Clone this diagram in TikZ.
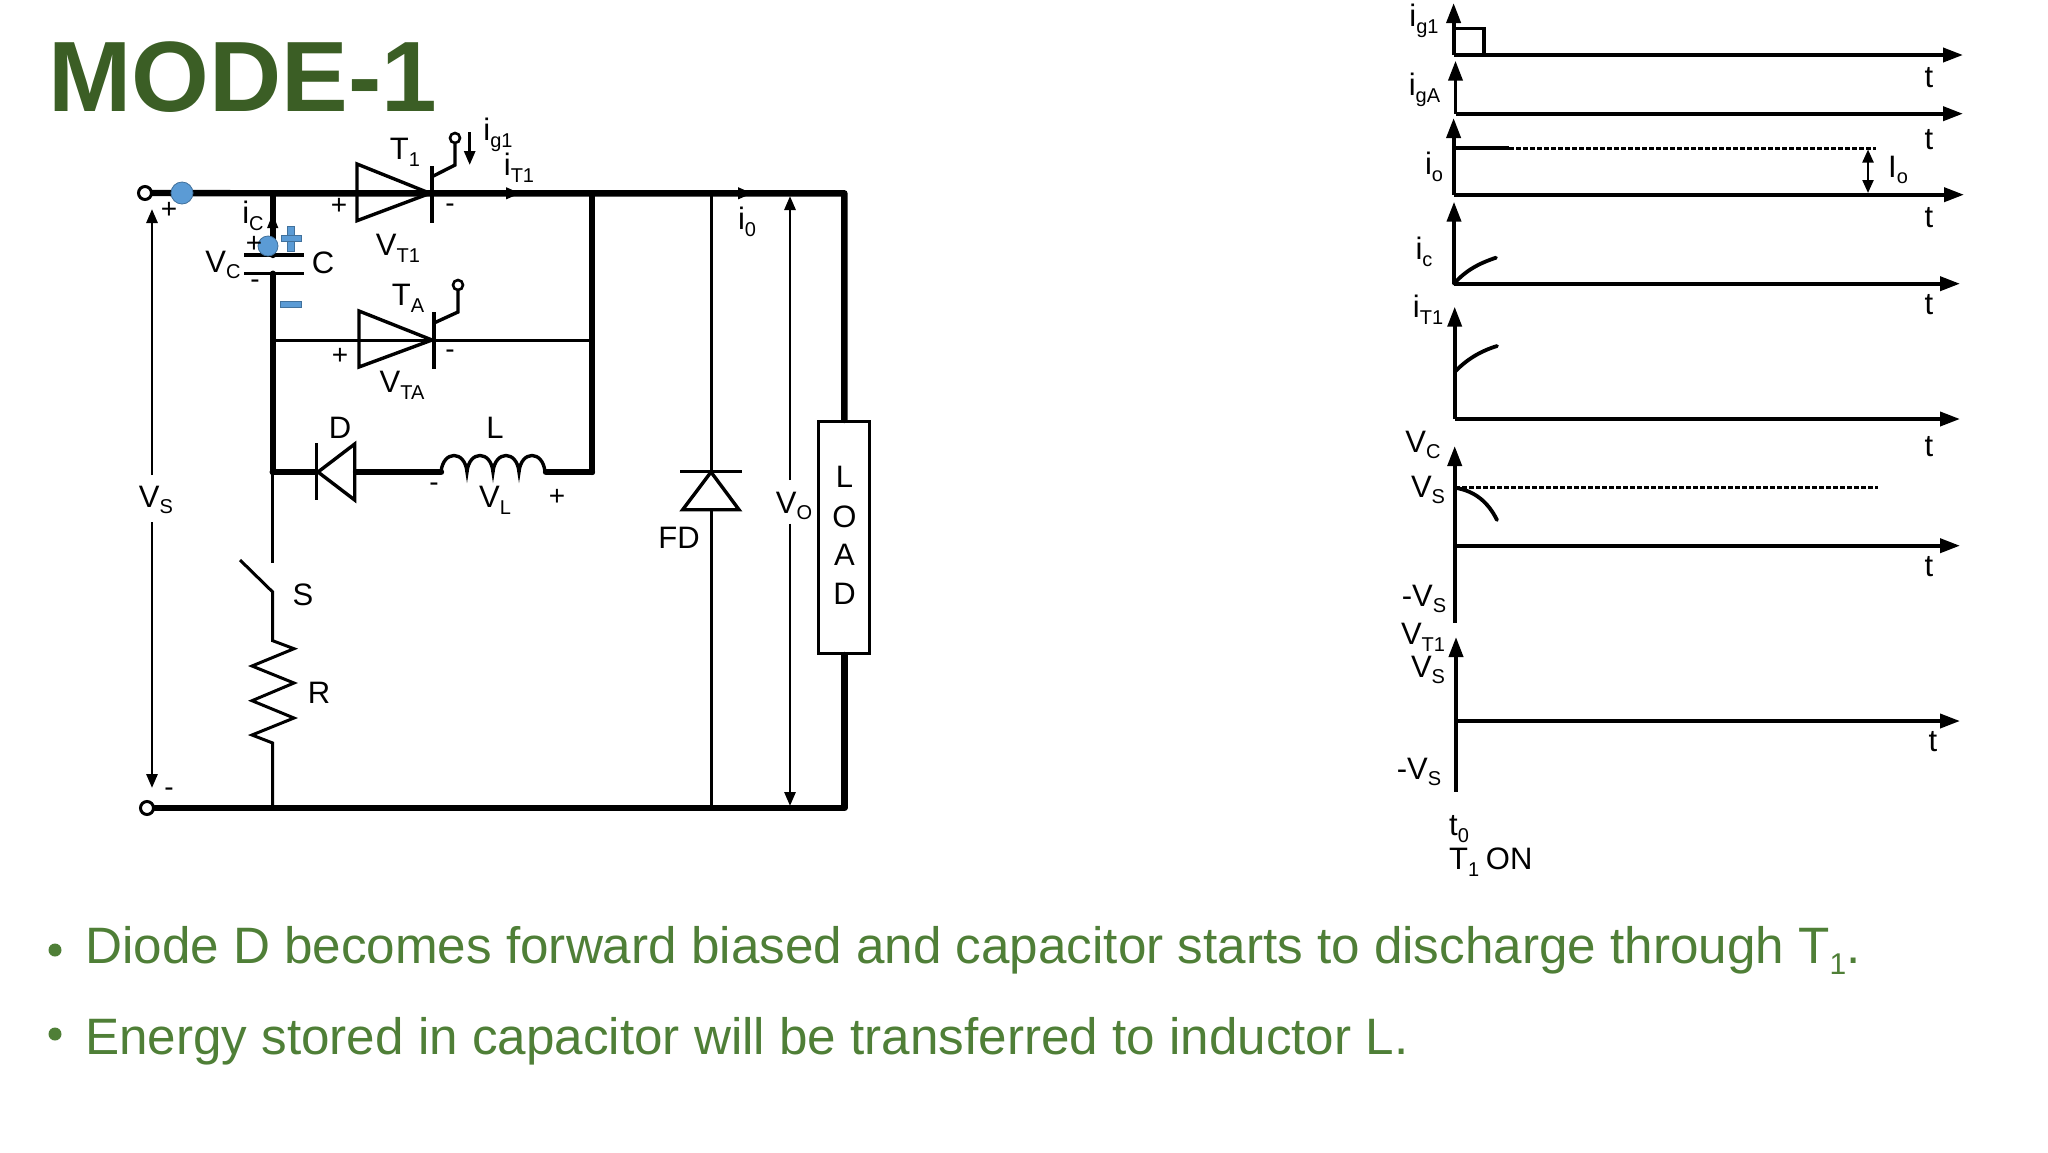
\documentclass[tikz,border=0pt]{standalone}
\usepackage{fontspec}
\setmainfont{Liberation Sans}
\usetikzlibrary{arrows.meta}
\definecolor{titlegreen}{HTML}{3B5E25}
\definecolor{bulletgreen}{HTML}{4F7F37}
\definecolor{markblue}{HTML}{5B9BD5}
\definecolor{markedge}{HTML}{41719C}
\newcommand\lsub[1]{\raisebox{-0.22em}{\fontsize{20}{20}\selectfont #1}}
\newcommand\tsub[1]{\raisebox{-0.22em}{\fontsize{30}{30}\selectfont #1}}
\tikzset{
  x=1pt,y=-1pt,
  thick wire/.style={line width=6.4pt,line cap=round,line join=round},
  thin wire/.style={line width=3pt,line join=miter},
  part/.style={line width=3.4pt,line join=miter},
  terminal/.style={circle,draw,line width=3pt,fill=white,minimum size=13pt,inner sep=0pt},
  gatepin/.style={circle,draw,line width=2.6pt,fill=white,minimum size=10pt,inner sep=0pt},
  lab/.style={inner sep=0pt,font=\fontsize{31}{31}\selectfont},
  sign/.style={inner sep=0pt,font=\fontsize{28}{28}\selectfont},
  axis/.style={line width=3.8pt,-{Triangle[length=20pt,width=14pt]}},
  trace/.style={line width=3.8pt,line cap=round},
  dashline/.style={line width=2.8pt,dash pattern=on 4.5pt off 2.5pt},
  measure/.style={line width=2.8pt,-{Triangle[length=14pt,width=11pt]}},
  bluedot/.style={circle,fill=markblue,draw=markedge,line width=0.8pt,inner sep=0pt},
  body/.style={inner sep=0pt,anchor=base west,text=bulletgreen,font=\fontsize{51.2}{51.2}\selectfont},
  blt/.style={circle,fill=bulletgreen,inner sep=0pt,minimum size=13pt},
}
\begin{document}
\begin{tikzpicture}
\useasboundingbox (0,0) rectangle (2048,1152);
\fill[white] (0,0) rectangle (2048,1152);
\node[inner sep=0pt,anchor=base west,text=titlegreen,font=\fontsize{100}{100}\selectfont\bfseries] (title) at (48,111) {MODE-1};

% named circuit points
\node[terminal] (tplus) at (145,193) {};
\node[terminal] (tminus) at (147,808) {};
\coordinate (jc) at (272.7,193.3);
\coordinate (jr) at (592,193.3);
\coordinate (jload) at (844.4,193.3);
\coordinate (bload) at (844.4,808);
\coordinate (bfd) at (711,808);
\coordinate (br) at (272.7,808);
\coordinate (jdl) at (272.7,472);
\coordinate (jdr) at (592,472);
\coordinate (ct) at (272.7,255);
\coordinate (cb) at (272.7,273.7);
\node[draw,line width=3pt,minimum width=51pt,minimum height=232pt,inner sep=0pt] (load) at (844.4,537.5) {};

% main wires
\draw[thick wire] (tplus.east) -- (jc) -- (jr) -- (jload) -- (load.north);
\draw[thick wire] (load.south) -- (bload) -- (bfd) -- (br) -- (tminus.east);
\draw[thick wire] (jc) -- (ct);
\draw[thick wire] (cb) -- (jdl);
\draw[thick wire] (jr) -- (jdr);
\draw[thin wire] (272.7,340) -- (592,340);

% capacitor
\draw[part] (244,255) -- (304,255);
\draw[part] (244,273.7) -- (304,273.7);
\draw[line width=1pt,-{Triangle[length=14pt,width=11pt]}] (272.7,232) -- (272.7,214);

% T1
\draw[part] (357,164) -- (430,193.3) -- (357,220.7) -- cycle;
\draw[part] (432,166) -- (432,223);
\draw[part] (432,176.7) -- (455,165) -- (455,144);
\node[gatepin] (g1) at (455,138) {};
\draw[line width=2.8pt,-{Triangle[length=14pt,width=11pt]}] (469.7,132) -- (469.7,165);
\draw[line width=1pt,-{Triangle[length=14pt,width=12pt]}] (505,193.3) -- (520,193.3);

% TA
\draw[part] (359,311) -- (432,340) -- (359,367) -- cycle;
\draw[part] (434,312) -- (434,369);
\draw[part] (434,323) -- (458,312) -- (458,291);
\node[gatepin] (ga) at (458,285) {};

% D and L
\draw[part] (316.7,443) -- (316.7,500);
\draw[part,fill=white] (318,472) -- (354.7,444) -- (354.7,500) -- cycle;
\draw[thick wire] (272.7,472) -- (316,472);
\draw[thick wire] (356,472) -- (441,472);
\draw[thick wire] (546,472) -- (jdr);
\draw[part,line cap=round] (441,472) .. controls (443,450) and (465,450) .. (467,472)
  .. controls (469,450) and (491,450) .. (493,472)
  .. controls (495,450) and (517,450) .. (519,472)
  .. controls (521,450) and (543,450) .. (545,472);

% S and R
\draw[thin wire] (jdl) -- (272.7,563);
\draw[thin wire] (240,560) -- (272.7,592) -- (272.7,640.7) -- (294,648.7) -- (252,666) -- (294,683) -- (252,700.7) -- (294,718) -- (252,735) -- (272.7,743) -- (br);

% FD
\draw[thin wire] (711,193.3) -- (711,472);
\draw[thin wire] (680,471.5) -- (741.7,471.5);
\draw[part] (711,472) -- (739,509.7) -- (682.7,509.7) -- cycle;
\draw[thin wire] (711,510) -- (bfd);
\draw[line width=1pt,-{Triangle[length=14pt,width=12pt]}] (735,193.3) -- (752,193.3);

% Vs and Vo arrows
\node[lab] (vs) at (156,500) {V\lsub{S}};
\draw[measure] (152,475) -- (152,209);
\draw[measure] (152,522) -- (152,788);
\node[lab] (vo) at (794,506) {V\lsub{O}};
\draw[measure] (790,480) -- (790,196);
\draw[measure] (790,523.5) -- (790,806);

% blue marks
\node[bluedot,minimum size=22pt] (dot1) at (182,193) {};
\node[bluedot,minimum size=20pt] (dot2) at (268,246) {};
\fill[markblue,draw=markedge,line width=0.8pt] (287.5,226) rectangle (294.5,251);
\fill[markblue,draw=markedge,line width=0.8pt] (281,235) rectangle (301,241.5);
\fill[markblue,draw=markedge,line width=0.8pt] (280.5,301) rectangle (301,307);

% circuit labels
\node[lab] at (405,152) {T\lsub{1}};
\node[lab] at (498,135) {i\lsub{g1}};
\node[lab] at (519,168) {i\lsub{T1}};
\node[sign] at (339,206) {+};
\node[sign] at (450,208) {-};
\node[lab] at (398,248) {V\lsub{T1}};
\node[lab] at (253,216) {i\lsub{C}};
\node[sign] at (254,244) {+};
\node[lab] at (223,265) {V\lsub{C}};
\node[lab] at (323,263) {C};
\node[sign] at (255,284) {-};
\node[lab] at (408,298) {T\lsub{A}};
\node[sign] at (340,356) {+};
\node[sign] at (450,354) {-};
\node[lab] at (402,385) {V\lsub{TA}};
\node[sign] at (169,210) {+};
\node[sign] at (169,792) {-};
\node[lab] at (340,428) {D};
\node[lab] at (495,428) {L};
\node[sign] at (434,487) {-};
\node[lab] at (495,500) {V\lsub{L}};
\node[sign] at (557,497) {+};
\node[lab] at (303,595) {S};
\node[lab] at (319,693) {R};
\node[lab] at (679,538) {FD};
\node[lab] at (747,222) {i\lsub{0}};
\node[lab] at (844.5,477) {L};
\node[lab] at (844.5,517) {O};
\node[lab] at (844.5,555) {A};
\node[lab] at (844.5,594) {D};

% waveforms
\coordinate (a1) at (1453.6,55);
\draw[axis] (a1) -- (1453.6,3);
\draw[axis] (a1) -- (1963,55);
\draw[line width=3.6pt,line join=miter] (1453.6,28.3) -- (1484,28.3) -- (1484,55);
\node[lab] at (1424,21) {i\lsub{g1}};
\node[lab] at (1929,78) {t};

\coordinate (a2) at (1455.5,113.7);
\draw[axis] (a2) -- (1455.5,60.7);
\draw[axis] (a2) -- (1963,113.7);
\node[lab] at (1424.5,90) {i\lsub{gA}};
\node[lab] at (1929,140) {t};

\coordinate (a3) at (1453.6,194.7);
\draw[axis] (a3) -- (1453.6,118);
\draw[axis] (a3) -- (1964,194.7);
\draw[trace,line cap=butt] (1453.6,148.3) -- (1509,148.3);
\draw[dashline] (1509,148.3) -- (1876,148.3);
\draw[line width=2.2pt,{Triangle[length=13pt,width=11pt]}-{Triangle[length=13pt,width=11pt]}] (1868,149.5) -- (1868,193);
\node[lab] at (1434,167) {i\lsub{o}};
\node[lab] at (1898,170) {I\lsub{o}};
\node[lab] at (1929,218) {t};

\coordinate (a4) at (1454,283.7);
\draw[axis] (a4) -- (1454,201.7);
\draw[axis] (a4) -- (1960,283.7);
\draw[trace] (a4) .. controls (1466,270) and (1480,263) .. (1496,257.7);
\node[lab] at (1424,252) {i\lsub{c}};
\node[lab] at (1929,305) {t};

\coordinate (a5) at (1454.7,419);
\draw[axis] (a5) -- (1454.7,306.7);
\draw[axis] (a5) -- (1960,419);
\draw[trace] (1455,371.7) .. controls (1467,359) and (1481,351) .. (1497,346);
\node[lab] at (1428,310) {i\lsub{T1}};
\node[lab] at (1929,447) {t};

\coordinate (a6) at (1454.7,545.7);
\draw[line width=3.8pt] (a6) -- (1454.7,623);
\draw[axis] (a6) -- (1454.7,446);
\draw[axis] (a6) -- (1960,545.7);
\draw[dashline] (1455,487.7) -- (1878,487.7);
\draw[trace] (1455,487.7) .. controls (1475,491) and (1488,502) .. (1497,520);
\node[lab] at (1423,445) {V\lsub{C}};
\node[lab] at (1428,490) {V\lsub{S}};
\node[lab] at (1424,599) {-V\lsub{S}};
\node[lab] at (1929,567) {t};

\coordinate (a7) at (1456,721);
\draw[line width=3.8pt] (a7) -- (1456,791.7);
\draw[axis] (a7) -- (1456,637);
\draw[axis] (a7) -- (1960,721);
\node[lab] at (1423,637) {V\lsub{T1}};
\node[lab] at (1428,670) {V\lsub{S}};
\node[lab] at (1419,772) {-V\lsub{S}};
\node[lab] at (1933,742) {t};
\node[lab] at (1459,829) {t\lsub{0}};
\node[lab,anchor=west] at (1449,862) {T\lsub{1}\hspace{-2pt} ON};

% bullets
\node[blt] (b1) at (55,950) {};
\node[body] (l1) at (85,963) {Diode D becomes forward biased and capacitor starts to discharge through T\tsub{1}.};
\node[blt] (b2) at (55,1034) {};
\node[body] (l2) at (85,1054) {Energy stored in capacitor will be transferred to inductor L.};
\end{tikzpicture}
\end{document}
